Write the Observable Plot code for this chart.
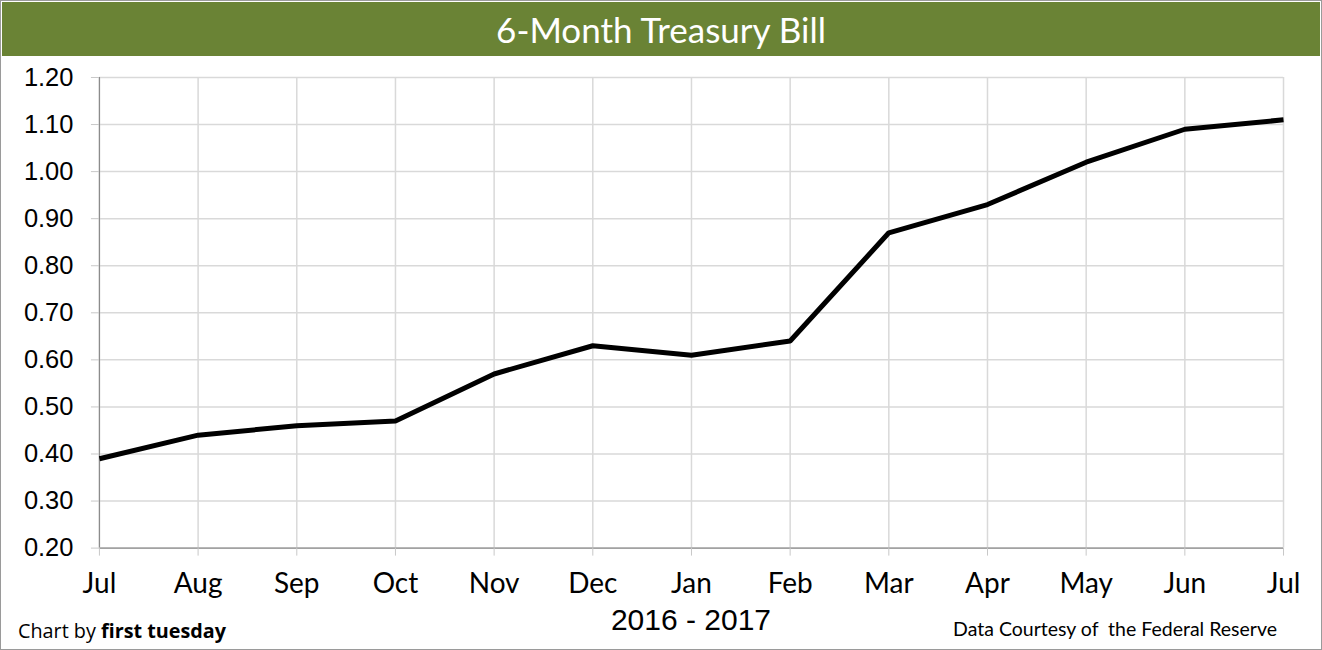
<!DOCTYPE html>
<html>
<head>
<meta charset="utf-8">
<script src="https://cdn.jsdelivr.net/npm/d3@7"></script>
<script src="https://cdn.jsdelivr.net/npm/@observablehq/plot@0.6"></script>
<style>
  html, body { margin: 0; padding: 0; background: #fff; }
  #frame { position: relative; width: 1320px; height: 648px; border: 1px solid #9a9a9a; overflow: hidden; background: #fff; }
  #title { position: absolute; left: 1px; top: 1px; width: 1318px; height: 54px; background: #6a8335; color: #fff;
           font-family: Lato, "Open Sans", sans-serif; font-size: 35px; line-height: 54px; text-align: center; }
  #chart { position: absolute; left: -1px; top: 55px; }
  #years { position: absolute; left: 590px; width: 200px; top: 602px; text-align: center; font-family: "Liberation Sans", Arial, sans-serif; font-size: 30px; color: #000; }
  #credit { position: absolute; left: 17px; top: 616px; font-family: "Open Sans", sans-serif; font-size: 19.8px; color: #000; }
  #source { position: absolute; right: 44px; top: 616px; font-family: Lato, sans-serif; font-size: 19.5px; color: #000; }
</style>
</head>
<body>
<div id="frame">
  <div id="title">6-Month Treasury Bill</div>
  <div id="chart"></div>
  <div id="years">2016 - 2017</div>
  <div id="credit">Chart by <b>first tuesday</b></div>
  <div id="source">Data Courtesy of&nbsp; the Federal Reserve</div>
</div>
<script>
const months = ["Jul","Aug","Sep","Oct","Nov","Dec","Jan","Feb","Mar","Apr","May","Jun","Jul"];
const rates  = [0.39, 0.44, 0.46, 0.47, 0.57, 0.63, 0.61, 0.64, 0.87, 0.93, 1.02, 1.09, 1.11];
const yTicks = [0.20,0.30,0.40,0.50,0.60,0.70,0.80,0.90,1.00,1.10,1.20];

const idx = months.map((_, i) => i);
const data = idx.map(i => ({i, v: rates[i]}));

const chart = Plot.plot({
  width: 1322,
  height: 545,
  marginTop: 21,
  marginBottom: 53,
  marginLeft: 99,
  marginRight: 38,
  style: {background: "transparent", color: "#000"},
  x: {type: "linear", domain: [0, 12], axis: null},
  y: {domain: [0.2, 1.2], axis: null},
  marks: [
    Plot.ruleY(yTicks, {stroke: "#d9d9d9", strokeWidth: 1.5}),
    Plot.ruleX(idx, {y1: 0.2, y2: 1.2, stroke: "#d9d9d9", strokeWidth: 1.5}),
    Plot.ruleX([0], {stroke: "#8c8c8c", strokeWidth: 1.2}),
    Plot.ruleY([0.2], {stroke: "#8c8c8c", strokeWidth: 1.2}),
    Plot.axisX(idx, {tickFormat: i => months[i], tickSize: 8, stroke: "#c8c8c8", tickPadding: 17, label: null,
      fontSize: 28, fontFamily: "Lato, 'Open Sans', sans-serif", fill: "#000"}),
    Plot.axisY(yTicks, {tickFormat: d => d.toFixed(2), tickSize: 8, stroke: "#c8c8c8", tickPadding: 18, label: null,
      fontSize: 25.5, fontFamily: "'Liberation Sans', Arial, sans-serif", fill: "#000"}),
    Plot.line(data, {x: "i", y: "v", stroke: "#000", strokeWidth: 5, strokeLinejoin: "miter", strokeLinecap: "butt"})
  ]
});
document.getElementById("chart").appendChild(chart);
</script>
</body>
</html>
